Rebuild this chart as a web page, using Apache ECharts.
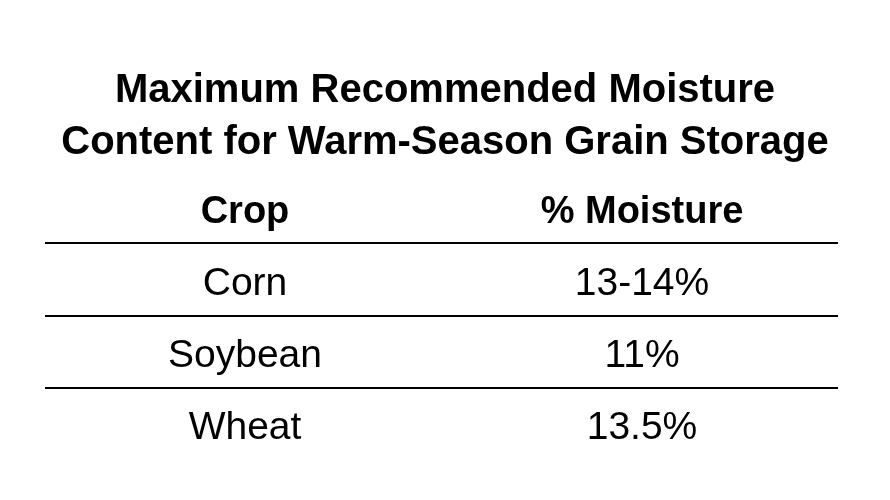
<!DOCTYPE html>
<html><head><meta charset="utf-8">
<script src="https://cdn.jsdelivr.net/npm/echarts@6/dist/echarts.min.js"></script>
<style>html,body{margin:0;padding:0;background:#fff}#c{width:890px;height:500px}</style>
</head><body><div id="c"></div>
<script>
const titleLines = ["Maximum Recommended Moisture", "Content for Warm-Season Grain Storage"];
const headers = ["Crop", "% Moisture"];
const crops = ["Corn", "Soybean", "Wheat"];
const moisture = ["13-14%", "11%", "13.5%"];

const chart = echarts.init(document.getElementById('c'));
const font = '"Liberation Sans", Arial, sans-serif';
const colX = [245, 642];
const g = [];
titleLines.forEach((t, i) => g.push({type:'text', x: 445, y: 91 + i*52,
  style:{text:t, font:'bold 40px ' + font, fill:'#000', align:'center', verticalAlign:'middle'}}));
headers.forEach((h, i) => g.push({type:'text', x: colX[i], y: 213,
  style:{text:h, font:'bold 38px ' + font, fill:'#000', align:'center', verticalAlign:'middle'}}));
const lineY = [243, 316, 388];
lineY.forEach(y => g.push({type:'line', shape:{x1:45, y1:y, x2:838, y2:y}, style:{stroke:'#000', lineWidth:2}}));
crops.forEach((c, i) => {
  const y = 284 + i*72;
  g.push({type:'text', x: colX[0], y, style:{text:c, font:'39px ' + font, fill:'#000', align:'center', verticalAlign:'middle'}});
  g.push({type:'text', x: colX[1], y, style:{text:moisture[i], font:'39px ' + font, fill:'#000', align:'center', verticalAlign:'middle'}});
});
chart.setOption({backgroundColor:'#fff', graphic: g});
</script></body></html>
